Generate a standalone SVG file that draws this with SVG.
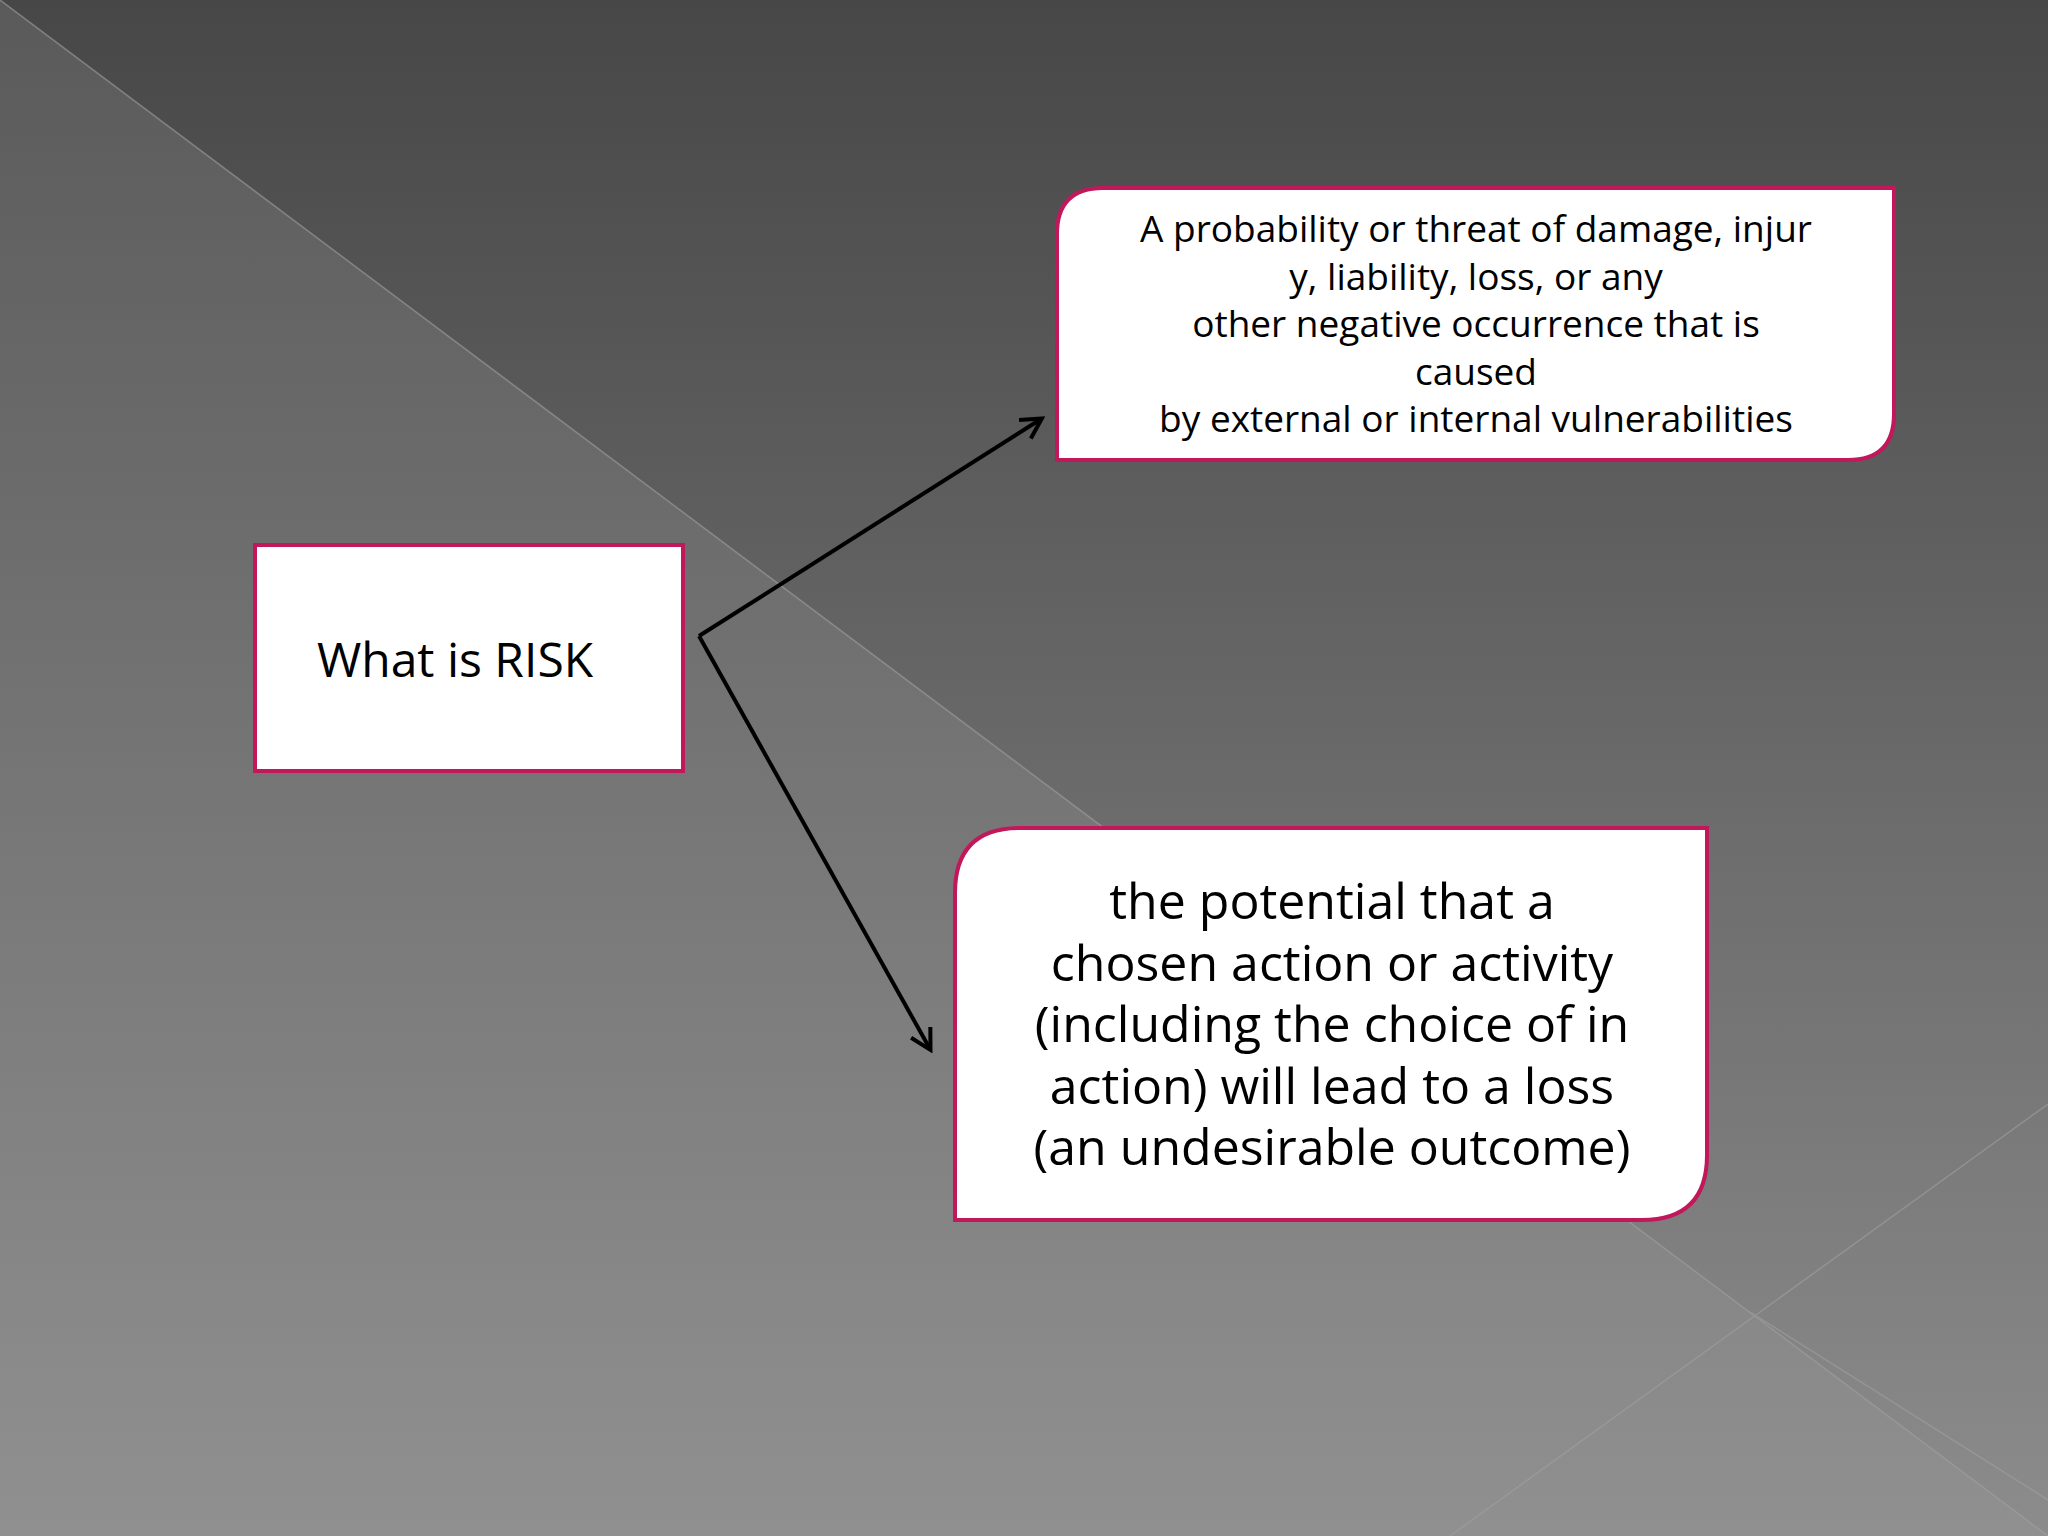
<svg xmlns="http://www.w3.org/2000/svg" width="2048" height="1536" viewBox="0 0 2048 1536">
<defs>
<linearGradient id="bg" x1="0" y1="0" x2="0" y2="1"><stop offset="0" stop-color="#474747"/><stop offset="1" stop-color="#8c8c8c"/></linearGradient>
<linearGradient id="bg2" x1="0" y1="0" x2="0" y2="1"><stop offset="0" stop-color="#5a5a5a"/><stop offset="1" stop-color="#909090"/></linearGradient>
<marker id="ah" markerWidth="26" markerHeight="26" refX="21" refY="13" orient="auto" markerUnits="userSpaceOnUse"><path d="M2,2 L22,13 L2,24" fill="none" stroke="#000" stroke-width="4"/></marker>
<style>
.box{fill:#fff;stroke:#c2185b;stroke-width:4}
.t{font-family:"Open Sans","Liberation Sans",sans-serif;fill:#000;text-anchor:middle}
.c{stroke:#000;stroke-width:4;fill:none}
</style>
</defs>
<rect width="2048" height="1536" fill="url(#bg)"/>
<path d="M0,0 L2048,1536 L0,1536 Z" fill="url(#bg2)"/>
<g stroke="#a0a0a0" stroke-width="1.5" opacity="0.6"><line x1="0" y1="0" x2="2048" y2="1536"/><line x1="2048" y1="1104" x2="1450" y2="1536"/><line x1="1750" y1="1312" x2="2048" y2="1500"/></g>
<g id="risk"><rect class="box" x="255" y="545" width="428" height="226"/><text class="t" x="455" y="677" font-size="48">What is RISK</text></g>
<g id="def1"><path class="box" d="M1103,188 L1894,188 L1894,414 Q1894,460 1848,460 L1057,460 L1057,234 Q1057,188 1103,188 Z"/>
<text class="t" font-size="37"><tspan x="1476" y="242">A probability or threat of damage, injur</tspan><tspan x="1476" y="290">y, liability, loss, or any</tspan><tspan x="1476" y="337">other negative occurrence that is</tspan><tspan x="1476" y="385">caused</tspan><tspan x="1476" y="432">by external or internal vulnerabilities</tspan></text></g>
<g id="def2"><path class="box" d="M1020,828 L1707,828 L1707,1155 Q1707,1220 1642,1220 L955,1220 L955,893 Q955,828 1020,828 Z"/>
<text class="t" font-size="50"><tspan x="1332" y="919">the potential that a</tspan><tspan x="1332" y="981">chosen action or activity</tspan><tspan x="1332" y="1042">(including the choice of in</tspan><tspan x="1332" y="1104">action) will lead to a loss</tspan><tspan x="1332" y="1165">(an undesirable outcome)</tspan></text></g>
<g id="connectors"><path class="c" d="M699,636 L1041,419" marker-end="url(#ah)"/><path class="c" d="M699,636 L930,1049" marker-end="url(#ah)"/></g>
</svg>
